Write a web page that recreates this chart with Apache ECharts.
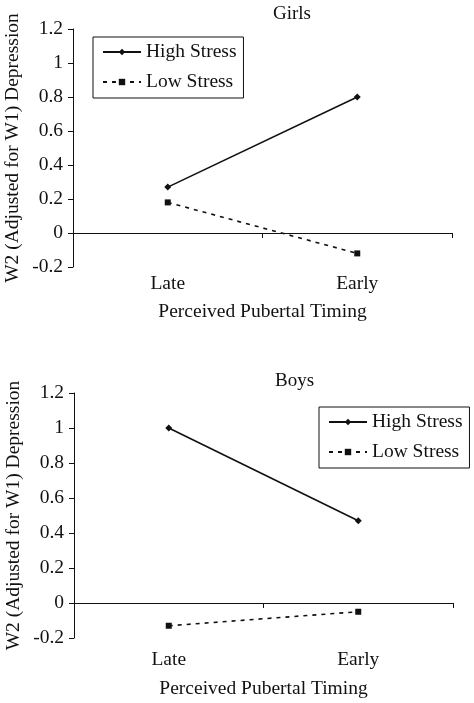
<!DOCTYPE html>
<html>
<head>
<meta charset="utf-8">
<script src="https://cdn.jsdelivr.net/npm/echarts@6/dist/echarts.min.js"></script>
<style>
  html, body { margin: 0; padding: 0; background: #fff; }
  #chart { width: 474px; height: 703px; }
</style>
</head>
<body>
<div id="chart"></div>
<script>
// values
const categories = ['Late', 'Early'];
const girlsHigh = [0.27, 0.80];
const girlsLow = [0.18, -0.12];
const boysHigh = [1.00, 0.47];
const boysLow = [-0.13, -0.05];

const FONT = 'Liberation Serif';
const FS = 19.5;
const ink = '#111';

var myChart = echarts.init(document.getElementById('chart'));

function yAx(gridIndex) {
  return {
    gridIndex: gridIndex,
    type: 'value',
    min: -0.2,
    max: 1.2,
    interval: 0.2,
    name: 'W2 (Adjusted for W1) Depression',
    nameLocation: 'middle',
    nameRotate: 90,
    nameGap: 50,
    nameMoveOverlap: false,
    nameTextStyle: { fontFamily: FONT, fontSize: FS, color: ink },
    splitLine: { show: false },
    axisLine: { show: true, lineStyle: { color: ink, width: 1 } },
    axisTick: { show: true, length: 5, lineStyle: { color: ink } },
    axisLabel: {
      margin: 10,
      fontFamily: FONT, fontSize: FS, color: ink,
      formatter: function (v) { return String(parseFloat(v.toFixed(1))); }
    }
  };
}

// labels and name sit below the plot, the line itself sits on zero
function xAx(gridIndex, labelMargin, nameGap) {
  return {
    gridIndex: gridIndex,
    type: 'category',
    data: categories,
    boundaryGap: true,
    name: 'Perceived Pubertal Timing',
    nameLocation: 'middle',
    nameGap: nameGap,
    nameMoveOverlap: false,
    nameTextStyle: { fontFamily: FONT, fontSize: FS, color: ink },
    axisLine: { onZero: true, lineStyle: { color: ink, width: 1 } },
    axisTick: { show: true, length: 5, lineStyle: { color: ink } },
    axisLabel: { margin: labelMargin, fontFamily: FONT, fontSize: FS, color: ink }
  };
}

function highSeries(idx, data) {
  return {
    name: 'High Stress', type: 'line',
    xAxisIndex: idx, yAxisIndex: idx,
    data: data,
    symbol: 'diamond', symbolSize: 7,
    itemStyle: { color: ink },
    lineStyle: { color: ink, width: 1.6, type: 'solid' }
  };
}

function lowSeries(idx, data) {
  return {
    name: 'Low Stress', type: 'line',
    xAxisIndex: idx, yAxisIndex: idx,
    data: data,
    symbol: 'rect', symbolSize: 6,
    itemStyle: { color: ink },
    lineStyle: { color: ink, width: 1.6, type: [4, 5] }
  };
}

function legendAt(left, top) {
  return {
    left: left, top: top,
    orient: 'vertical',
    data: ['High Stress', 'Low Stress'],
    itemWidth: 38, itemHeight: 8,
    itemGap: 10,
    padding: [5, 7, 6, 9],
    borderColor: ink, borderWidth: 1,
    backgroundColor: '#fff',
    selectedMode: false,
    textStyle: { fontFamily: FONT, fontSize: FS, color: ink }
  };
}

myChart.setOption({
  backgroundColor: '#fff',
  animation: false,
  title: [
    { text: 'Girls', left: 268, top: 0, textStyle: { fontFamily: FONT, fontSize: 19, fontWeight: 'normal', color: ink } },
    { text: 'Boys', left: 270, top: 367, textStyle: { fontFamily: FONT, fontSize: 19, fontWeight: 'normal', color: ink } }
  ],
  legend: [legendAt(93, 37), legendAt(319, 407)],
  grid: [
    { left: 73, right: 22, top: 29, height: 238, outerBoundsMode: 'none' },
    { left: 74, right: 21, top: 393, height: 245, outerBoundsMode: 'none' }
  ],
  xAxis: [xAx(0, 7, 35), xAx(1, 12, 41)],
  yAxis: [yAx(0), yAx(1)],
  series: [
    highSeries(0, girlsHigh),
    lowSeries(0, girlsLow),
    highSeries(1, boysHigh),
    lowSeries(1, boysLow)
  ]
});
</script>
</body>
</html>
